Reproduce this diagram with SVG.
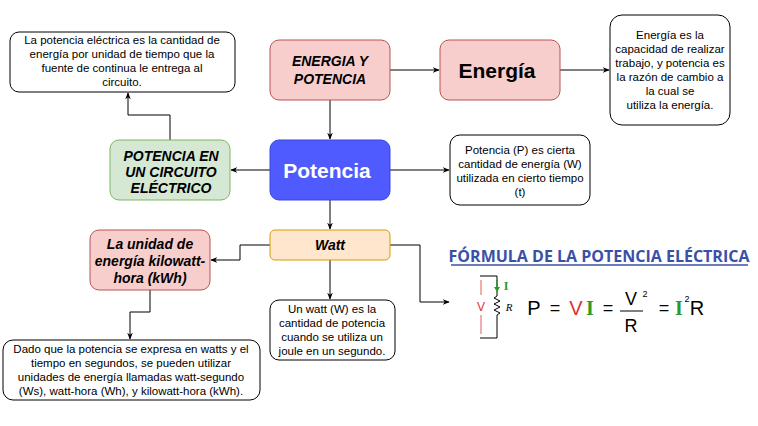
<svg xmlns="http://www.w3.org/2000/svg" width="758" height="426" viewBox="0 0 758 426">
<defs>
<marker id="a" viewBox="0 0 10 10" refX="9" refY="5" markerWidth="7" markerHeight="7" orient="auto"><path d="M0,1 L10,5 L0,9 L3,5 Z" fill="#000"/></marker>
<style>
text{font-family:"Liberation Sans",Arial,sans-serif;fill:#000;text-anchor:middle}
.w{fill:#fff;stroke:#000;stroke-width:1}
.p{fill:#f8cecc;stroke:#b85450}
.t{font-size:11.5px}
.bi{font-size:14px;font-weight:bold;font-style:italic}
.c{fill:none;stroke:#000;stroke-width:1;marker-end:url(#a)}
</style>
</defs>
<rect width="758" height="426" fill="#fff"/>
<g id="connectors">
<path class="c" d="M390,70 H439"/>
<path class="c" d="M330,100 V139"/>
<path class="c" d="M560,70 H609"/>
<path class="c" d="M270,170 H231"/>
<path class="c" d="M390,170 H449"/>
<path class="c" d="M330,200 V229"/>
<path class="c" d="M170,140 V115 H128 V93"/>
<path class="c" d="M270,245 H240 V260 H211"/>
<path class="c" d="M330,260 V299"/>
<path class="c" d="M390,245 H420 V302 H449"/>
<path class="c" d="M150,290 V312 H130 V339"/>
</g>
<g id="n1"><rect class="w" x="10" y="32" width="225" height="60" rx="9"/>
<text class="t" x="122" y="44">La potencia eléctrica es la cantidad de</text>
<text class="t" x="122" y="58">energía por unidad de tiempo que la</text>
<text class="t" x="122" y="72">fuente de continua le entrega al</text>
<text class="t" x="122" y="86">circuito.</text></g>
<g id="n2"><rect class="p" x="270" y="40" width="120" height="60" rx="9"/>
<text class="bi" x="330" y="66" font-size="15">ENERGIA Y</text>
<text class="bi" x="330" y="84" font-size="15">POTENCIA</text></g>
<g id="n3"><rect class="p" x="440" y="40" width="120" height="60" rx="9"/>
<text x="497" y="78" font-size="21" font-weight="bold">Energía</text></g>
<g id="n4"><rect class="w" x="610" y="15" width="120" height="110" rx="12"/>
<text class="t" x="670" y="39">Energía es la</text>
<text class="t" x="670" y="53">capacidad de realizar</text>
<text class="t" x="670" y="67">trabajo, y potencia es</text>
<text class="t" x="670" y="81">la razón de cambio a</text>
<text class="t" x="670" y="95">la cual se</text>
<text class="t" x="670" y="109">utiliza la energía.</text></g>
<g id="n5"><rect x="270" y="140" width="120" height="60" rx="9" fill="#4f5bff" stroke="#3a46d8"/>
<text x="327" y="178" font-size="21" font-weight="bold" style="fill:#fff">Potencia</text></g>
<g id="n6"><rect x="110" y="140" width="120" height="60" rx="9" fill="#d5e8d4" stroke="#82b366"/>
<text class="bi" x="171" y="161" font-size="13">POTENCIA EN</text>
<text class="bi" x="171" y="177" font-size="13">UN CIRCUITO</text>
<text class="bi" x="171" y="193" font-size="13">ELÉCTRICO</text></g>
<g id="n7"><rect class="w" x="450" y="135" width="140" height="70" rx="10"/>
<text class="t" x="520" y="154">Potencia (P) es cierta</text>
<text class="t" x="520" y="168">cantidad de energía (W)</text>
<text class="t" x="520" y="182">utilizada en cierto tiempo</text>
<text class="t" x="520" y="196">(t)</text></g>
<g id="n8"><rect x="270" y="230" width="120" height="30" rx="5" fill="#ffe6cc" stroke="#d79b00"/>
<text class="bi" x="330" y="250">Watt</text></g>
<g id="n9"><rect class="p" x="90" y="230" width="120" height="60" rx="9"/>
<text class="bi" x="150" y="249" font-size="13">La unidad de</text>
<text class="bi" x="150" y="266" font-size="13">energía kilowatt-</text>
<text class="bi" x="150" y="283" font-size="13">hora (kWh)</text></g>
<g id="n10"><rect class="w" x="270" y="300" width="125" height="60" rx="9"/>
<text class="t" x="332" y="313">Un watt (W) es la</text>
<text class="t" x="332" y="327">cantidad de potencia</text>
<text class="t" x="332" y="341">cuando se utiliza un</text>
<text class="t" x="332" y="355">joule en un segundo.</text></g>
<g id="n11"><rect class="w" x="3" y="340" width="257" height="60" rx="10"/>
<text class="t" x="131" y="353">Dado que la potencia se expresa en watts y el</text>
<text class="t" x="131" y="367">tiempo en segundos, se pueden utilizar</text>
<text class="t" x="131" y="381">unidades de energía llamadas watt-segundo</text>
<text class="t" x="131" y="395">(Ws), watt-hora (Wh), y kilowatt-hora (kWh).</text></g>
<g id="formula">
<text x="599" y="262" font-family="Open Sans" font-size="16" font-weight="bold" style="fill:#3a50a8;font-family:'Open Sans',sans-serif">FÓRMULA DE LA POTENCIA ELÉCTRICA</text>
<line x1="451" y1="265" x2="748" y2="265" stroke="#3a50a8" stroke-width="1.5"/>
<path d="M480,276 H497 V296 L494,298 L500,301 L494,304 L500,307 L494,310 L500,313 L497,315 V338 H480" fill="none" stroke="#000"/>
<path d="M497,280 V290" stroke="#2a9a2a" stroke-width="1.5"/><path d="M494,287 L497,292 L500,287Z" fill="#2a9a2a"/>
<text x="506" y="290" font-size="12" font-weight="bold" style="fill:#2a9a2a;font-family:'Liberation Serif',serif">I</text>
<path d="M481,280 V295 M481,315 V334" stroke="#d33" stroke-width="0.8"/>
<text x="481" y="311" font-size="12" style="fill:#d33">V</text>
<text x="509" y="311" font-size="11" font-style="italic" style="font-family:'Liberation Serif',serif">R</text>
<text x="534" y="315" font-size="20">P</text>
<text x="555" y="314" font-size="18">=</text>
<text x="576" y="315" font-size="20" style="fill:#d33">V</text>
<text x="590" y="315" font-size="20" font-weight="bold" style="fill:#2a9a2a;font-family:'Liberation Serif',serif">I</text>
<text x="608" y="314" font-size="18">=</text>
<text x="631" y="305" font-size="18">V</text>
<text x="645" y="297" font-size="9">2</text>
<line x1="620" y1="311" x2="643" y2="311" stroke="#000"/>
<text x="631" y="332" font-size="18">R</text>
<text x="664" y="314" font-size="18">=</text>
<text x="679" y="315" font-size="20" font-weight="bold" style="fill:#2a9a2a;font-family:'Liberation Serif',serif">I</text>
<text x="687" y="302" font-size="9">2</text>
<text x="697" y="315" font-size="20">R</text>
</g>
</svg>
